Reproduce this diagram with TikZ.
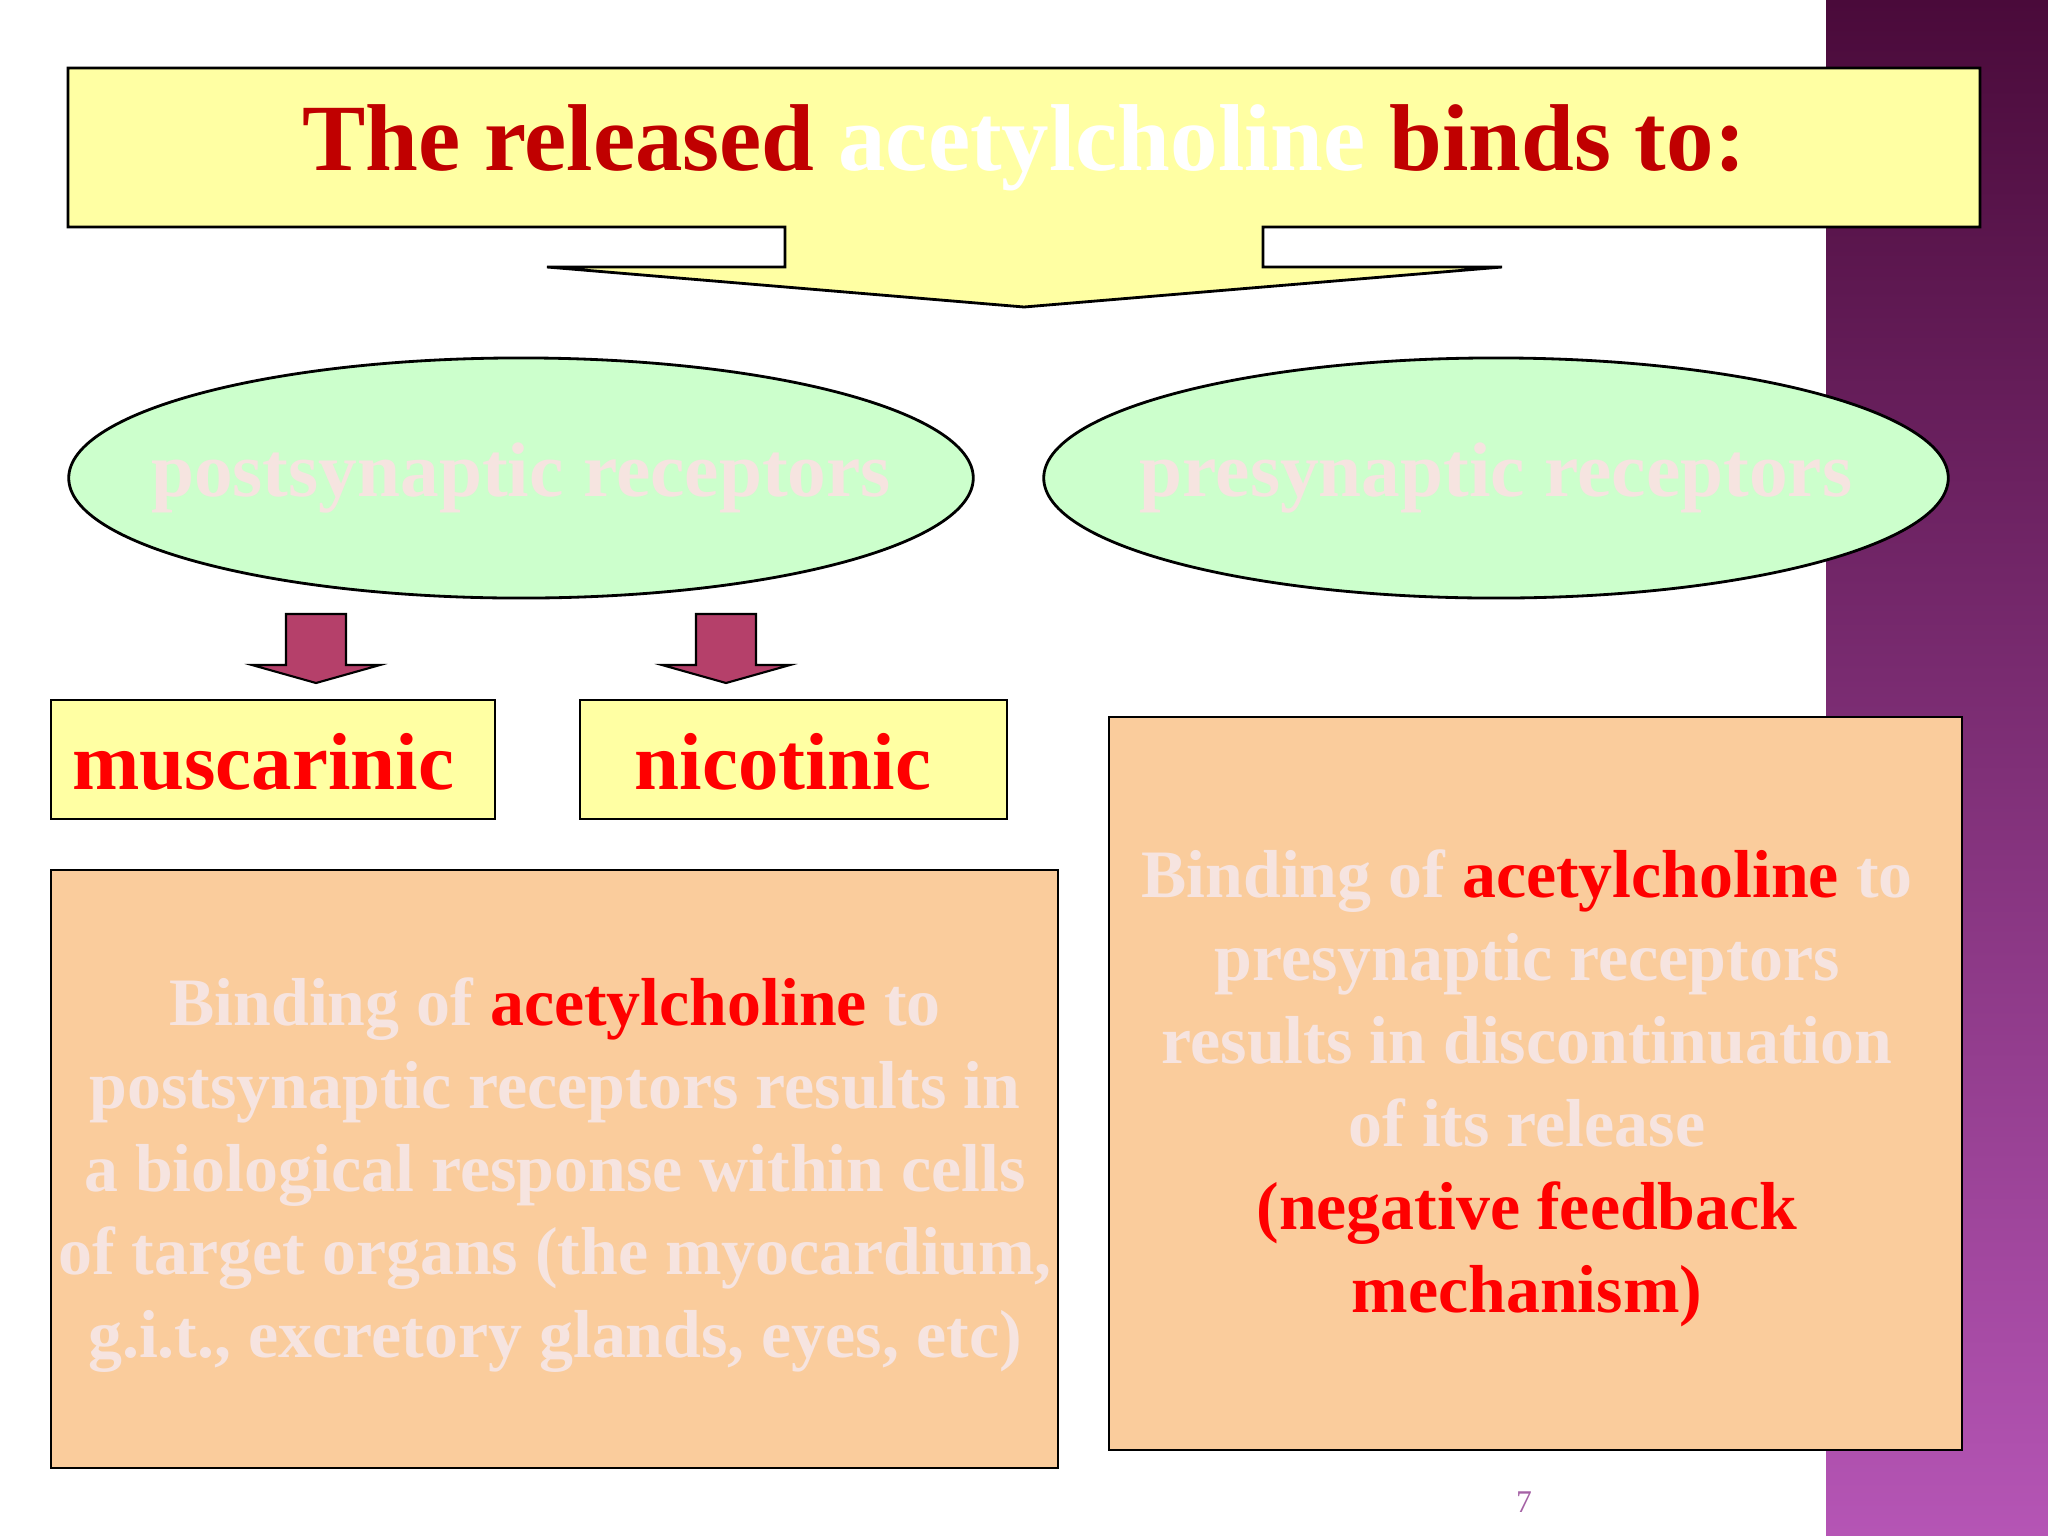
\documentclass[tikz,border=0pt]{standalone}
\usepackage{fontspec}
\setmainfont{Liberation Serif}
\usetikzlibrary{shapes.geometric}
\begin{document}
\begin{tikzpicture}[x=0.01cm,y=-0.01cm,
  yel/.style={fill=yelf,draw=black,line width=0.8pt},
  ell/.style={ellipse,fill=grn,draw=black,line width=0.8pt,inner sep=0pt,minimum width=9.04cm,minimum height=2.4cm},
  orb/.style={fill=org,draw=black,line width=0.8pt},
  arr/.style={fill=arrc,draw=black,line width=0.6pt},
  wt/.style={text=wtc,font=\bfseries},
  rd/.style={text=red,font=\bfseries}]
\definecolor{yelf}{HTML}{FFFFA3}
\definecolor{grn}{HTML}{CCFFCC}
\definecolor{org}{HTML}{FACC9C}
\definecolor{arrc}{HTML}{B5406A}
\definecolor{wtc}{HTML}{F6E4E0}
\definecolor{ttl}{HTML}{C00000}
\definecolor{pd}{HTML}{4A0A3A}
\definecolor{pl}{HTML}{B555B5}
\useasboundingbox (0,0) rectangle (2048,1536);
\fill[white] (0,0) rectangle (2048,1536);
\shade[top color=pd,bottom color=pl] (1826,0) rectangle (2048,1536);
% top callout
\draw[yel] (68,68) -- (1980,68) -- (1980,227) -- (1263,227) -- (1263,267) -- (1502,267) -- (1024,307) -- (547,267) -- (785,267) -- (785,227) -- (68,227) -- cycle;
\node[font=\bfseries\fontsize{27}{32}\selectfont] (title) at (1024,148) {\textcolor{ttl}{The released} \textcolor{white}{acetylcholine} \textcolor{ttl}{binds to:}};
% ellipses
\node[ell] (post) at (521,478) {};
\node[wt,font=\bfseries\fontsize{22}{26}\selectfont] at (post) {postsynaptic receptors};
\node[ell] (pre) at (1496,478) {};
\node[wt,font=\bfseries\fontsize{22}{26}\selectfont] at (pre) {presynaptic receptors};
% small arrows
\draw[arr] (286,614) -- (346,614) -- (346,665) -- (380,665) -- (316,683) -- (252,665) -- (286,665) -- cycle;
\draw[arr] (696,614) -- (756,614) -- (756,665) -- (790,665) -- (726,683) -- (662,665) -- (696,665) -- cycle;
% boxes
\draw[yel] (51,700) rectangle (495,819);
\node[rd,font=\bfseries\fontsize{23}{27}\selectfont] (mus) at (263,762) {muscarinic};
\draw[yel] (580,700) rectangle (1007,819);
\node[rd,font=\bfseries\fontsize{23}{27}\selectfont] (nic) at (783,762) {nicotinic};
\draw[orb] (51,870) rectangle (1058,1468);
\node[wt,font=\bfseries\fontsize{19.3}{23.6}\selectfont,align=center] (b1) at (555,1175) {Binding of \textcolor{red}{acetylcholine} to\\postsynaptic receptors results in\\a biological response within cells\\of target organs (the myocardium,\\g.i.t., excretory glands, eyes, etc)};
\draw[orb] (1109,717) rectangle (1962,1450);
\node[wt,font=\bfseries\fontsize{19.3}{23.6}\selectfont,align=center] (b2) at (1527,1088) {Binding of \textcolor{red}{acetylcholine} to\\presynaptic receptors\\results in discontinuation\\of its release\\\textcolor{red}{(negative feedback}\\\textcolor{red}{mechanism)}};
\node[text=pl!70!gray,font=\fontsize{9}{10}\selectfont] (pg) at (1524,1502) {7};
\end{tikzpicture}
\end{document}
